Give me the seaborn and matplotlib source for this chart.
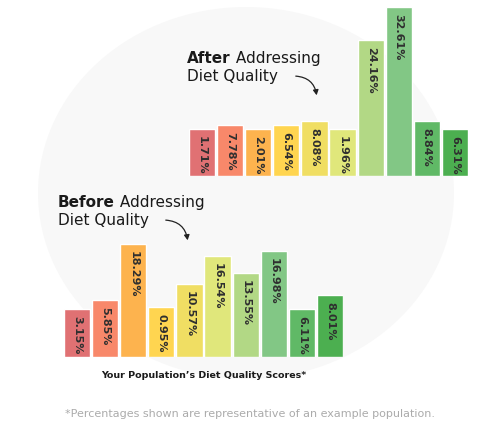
import numpy as np
import pandas as pd
import seaborn as sns
import matplotlib.pyplot as plt
from matplotlib.patches import Ellipse, FancyArrowPatch

# score buckets 1..10, labelled percentages, and the bar heights as drawn (not to scale)
scores = [str(i) for i in range(1, 11)]
before_labels = ["3.15%", "5.85%", "18.29%", "0.95%", "10.57%", "16.54%", "13.55%", "16.98%", "6.11%", "8.01%"]
before_heights = [48, 57, 113, 50, 73, 101, 84, 106, 48, 62]
after_labels = ["1.71%", "7.78%", "2.01%", "6.54%", "8.08%", "1.96%", "24.16%", "32.61%", "8.84%", "6.31%"]
after_heights = [47, 51, 47, 51, 55, 47, 136, 169, 55, 47]
bar_colors = ["#e07173", "#f8886a", "#fdb34e", "#ffd550", "#f0de63",
              "#e0e77b", "#b2d885", "#82c785", "#60b966", "#4caf50"]

sns.set_theme(style="white")
plt.rcParams['font.family'] = ['DejaVu Sans']

W, H = 500, 443
fig = plt.figure(figsize=(W / 100, H / 100), dpi=100)
fig.patch.set_facecolor("white")

# background layer in pixel coords
bg = fig.add_axes([0, 0, 1, 1])
bg.set_xlim(0, W)
bg.set_ylim(H, 0)
bg.axis("off")
bg.add_patch(Ellipse((246, 193), 416, 372, facecolor="#f8f8f8", edgecolor="none"))


def bar_panel(left, baseline, ymax, labels, heights):
    ax = fig.add_axes([left / W, (H - baseline) / H, 279 / W, ymax / H])
    df = pd.DataFrame({"score": scores, "h": heights})
    sns.barplot(data=df, x="score", y="h", hue="score", palette=bar_colors,
                legend=False, width=0.93, saturation=1, ax=ax)
    ax.set_xlim(-0.465, 9.465)
    ax.set_ylim(0, ymax)
    ax.axis("off")
    ax.patch.set_alpha(0)
    for i, (lab, h) in enumerate(zip(labels, heights)):
        ax.text(i, h - 7, lab, rotation=-90, ha="center", va="top",
                fontsize=8, fontweight="bold", color="#2f2f2f")
    return ax


bar_panel(189, 176, 172, after_labels, after_heights)
bar_panel(64, 357, 120, before_labels, before_heights)


def title(x, y, word):
    t1 = bg.text(x, y, word, fontsize=11, fontweight="bold", color="#1a1a1a", va="baseline")
    bg.annotate(" Addressing", xy=(1, 0), xycoords=t1, fontsize=11, color="#1a1a1a", va="bottom")
    bg.text(x, y + 18, "Diet Quality", fontsize=11, color="#1a1a1a", va="baseline")


title(187, 63, "After")
title(58, 207, "Before")

for (x0, y0), (x1, y1) in [((293, 76), (317, 98)), ((163, 220), (188, 243))]:
    bg.add_patch(FancyArrowPatch((x0, y0), (x1, y1), connectionstyle="arc3,rad=-0.45",
                                 arrowstyle="-|>,head_length=3,head_width=1.6",
                                 color="#222222", lw=0.9))

bg.text(204, 375, "Your Population\u2019s Diet Quality Scores*", ha="center", va="center",
        fontsize=6.8, fontweight="bold", color="#1a1a1a")
bg.text(250, 414, "*Percentages shown are representative of an example population.",
        ha="center", va="center", fontsize=8, color="#ababab")

fig.savefig("out.png", dpi=100, facecolor="white")
